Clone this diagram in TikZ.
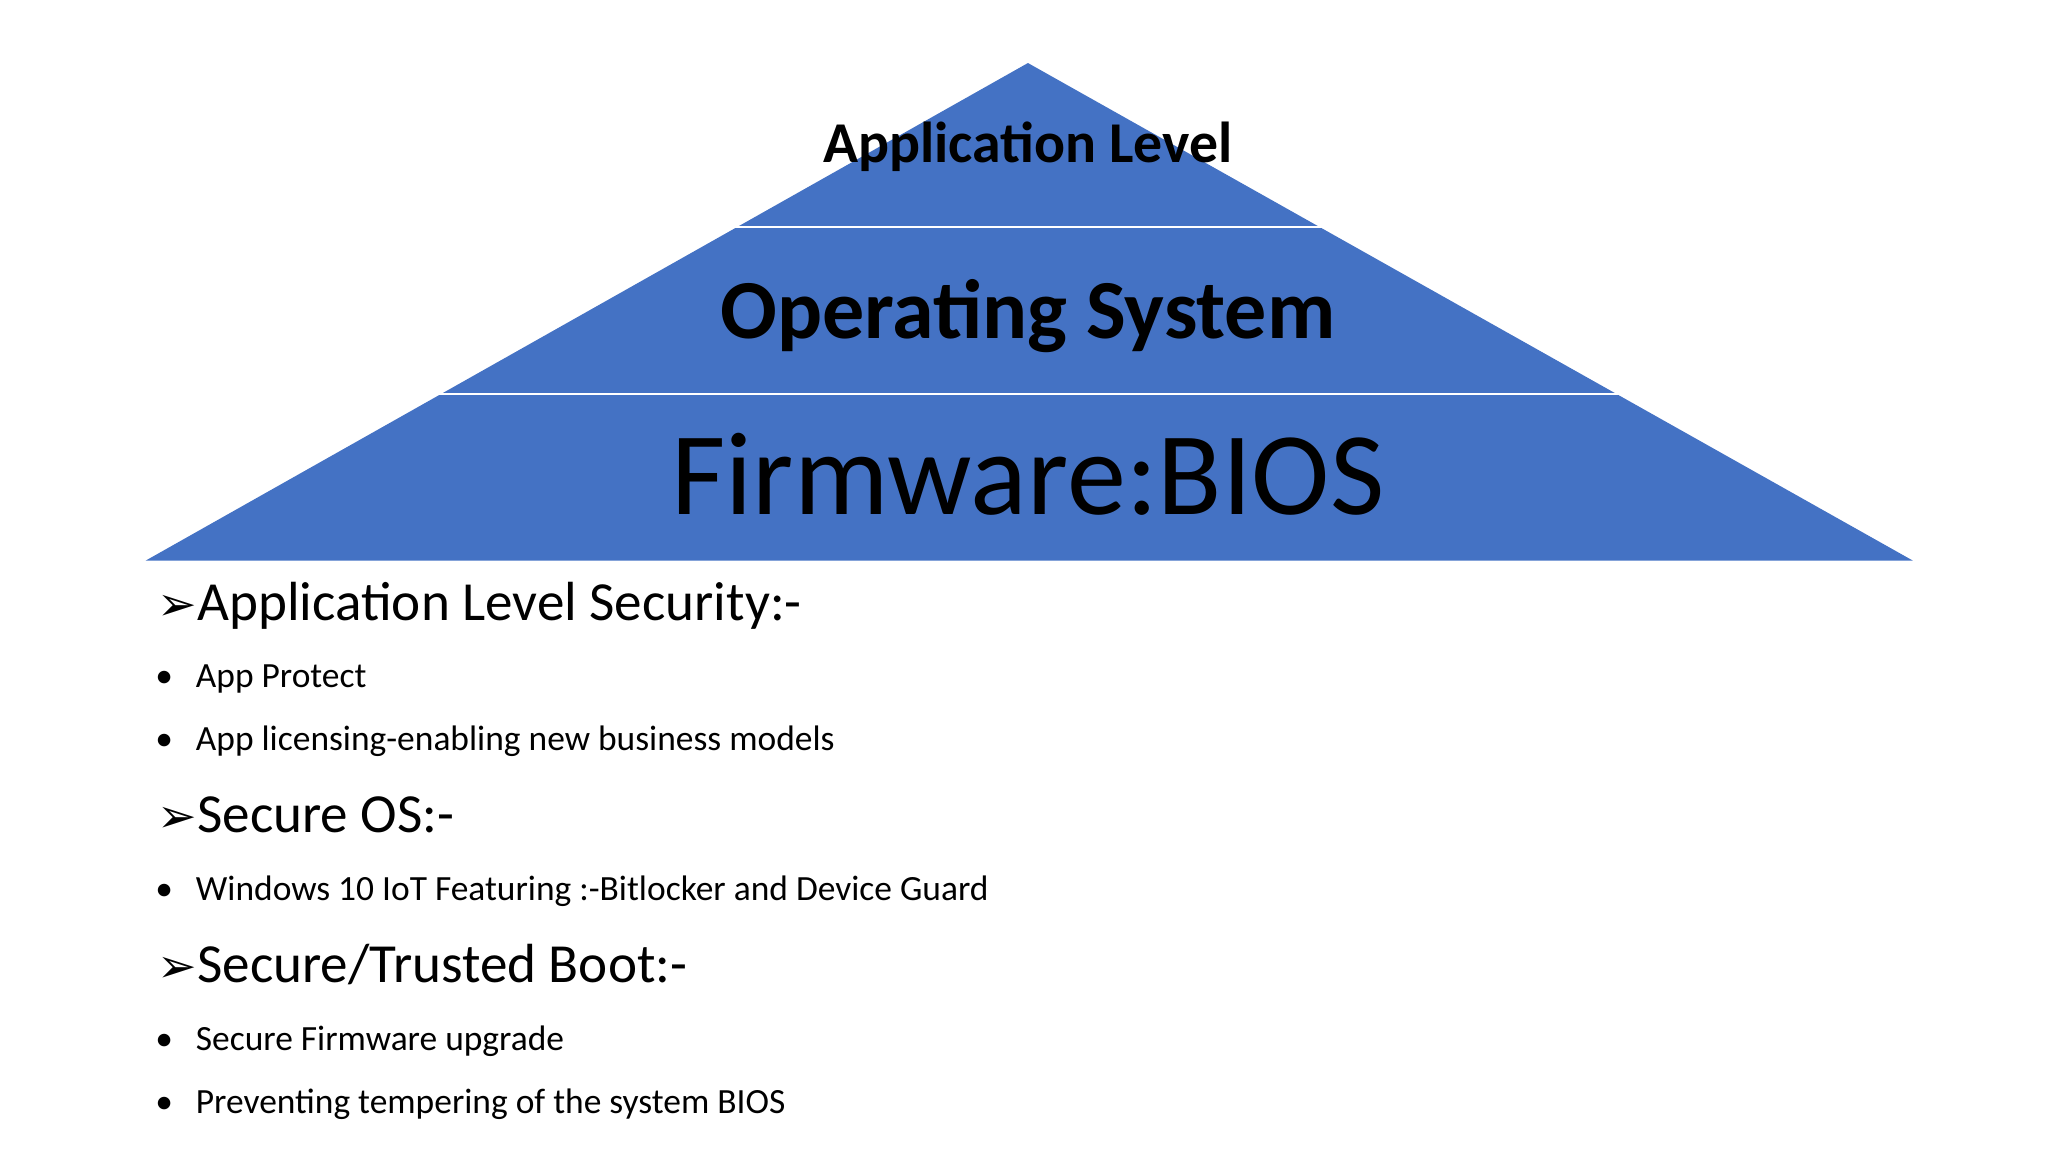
\documentclass[tikz,border=0pt]{standalone}
\usepackage{fontspec}
\setmainfont{Carlito}
\newfontfamily\symf{DejaVu Sans}
\definecolor{pyr}{HTML}{4472C4}
\begin{document}
\begin{tikzpicture}[x=1pt,y=-1pt,
  lvl/.style={anchor=base,inner sep=0pt},
  head/.style={anchor=base west,inner sep=0pt,font=\fontsize{42}{48}\selectfont},
  item/.style={anchor=base west,inner sep=0pt,font=\fontsize{27}{32}\selectfont},
  dot/.style={anchor=base,inner sep=0pt,font=\fontsize{27}{32}\selectfont}]
\useasboundingbox (0,0) rectangle (1560,878);
\coordinate (apex) at (783,48);
\coordinate (bl) at (111,427);
\coordinate (br) at (1457,427);
\fill[pyr] (apex) -- (br) -- (bl) -- cycle;
\draw[white,line width=1.5pt] (559,173) -- (1007,173);
\draw[white,line width=1.5pt] (334,300) -- (1233,300);
\node[lvl,font=\bfseries\fontsize{44}{50}\selectfont] (app) at (783,124) {Application Level};
\node[lvl,font=\bfseries\fontsize{64}{70}\selectfont] (os) at (783,258) {Operating System};
\node[lvl,font=\fontsize{90}{96}\selectfont] (fw) at (783,392) {Firmware:BIOS};
\node[head] (h1) at (120,473) {{\symf\fontsize{36}{40}\selectfont ➢}Application Level Security:-};
\node[dot] (d1) at (125,524) {•};
\node[item] (i1) at (149,524) {App Protect};
\node[dot] (d2) at (125,572) {•};
\node[item] (i2) at (149,572) {App licensing-enabling new business models};
\node[head] (h2) at (120,634) {{\symf\fontsize{36}{40}\selectfont ➢}Secure OS:-};
\node[dot] (d3) at (125,686) {•};
\node[item] (i3) at (149,686) {Windows 10 IoT Featuring :-Bitlocker and Device Guard};
\node[head] (h3) at (120,748) {{\symf\fontsize{36}{40}\selectfont ➢}Secure/Trusted Boot:-};
\node[dot] (d4) at (125,800) {•};
\node[item] (i4) at (149,800) {Secure Firmware upgrade};
\node[dot] (d5) at (125,848) {•};
\node[item] (i5) at (149,848) {Preventing tempering of the system BIOS};
\end{tikzpicture}
\end{document}
